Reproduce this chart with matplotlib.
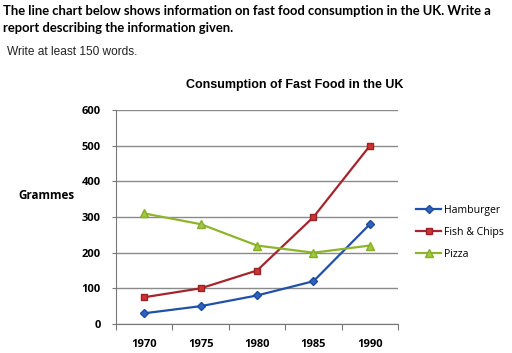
import numpy as np
import matplotlib.pyplot as plt

years = ['1970', '1975', '1980', '1985', '1990']
hamburger = [30, 50, 80, 120, 280]
fish_chips = [75, 100, 150, 300, 500]
pizza = [310, 280, 220, 200, 220]
yticks = [0, 100, 200, 300, 400, 500, 600]

fig = plt.figure(figsize=(5.12, 3.53), dpi=100)
fig.patch.set_facecolor('white')

# header text
fig.text(0.006, 0.970, "The line chart below shows information on fast food consumption in the UK. Write a",
         fontsize=9.4, fontweight='bold', family='Lato', va='center', ha='left')
fig.text(0.006, 0.922, "report describing the information given.",
         fontsize=9.4, fontweight='bold', family='Lato', va='center', ha='left')
fig.text(0.014, 0.853, "Write at least 150 words.",
         fontsize=8.6, family='Liberation Sans', color='#222222', va='center', ha='left')

ax = fig.add_axes([0.2266, 0.0822, 0.551, 0.606])
x = np.arange(len(years))

ax.plot(x, hamburger, color='#2150a8', lw=1.6, marker='D', ms=4.5,
        mfc='#2f63c0', mec='#1d4a9c', label='Hamburger')
ax.plot(x, fish_chips, color='#a4252b', lw=1.6, marker='s', ms=5,
        mfc='#cc3333', mec='#9c2024', label='Fish & Chips')
ax.plot(x, pizza, color='#8db52c', lw=1.6, marker='^', ms=6,
        mfc='#a2c840', mec='#86ad28', label='Pizza')

ax.set_xlim(-0.5, len(years) - 0.5)
ax.set_ylim(0, 600)
ax.set_yticks(yticks)
ax.set_yticklabels([str(v) for v in yticks], fontsize=8, fontweight='bold', family='Open Sans')
ax.yaxis.grid(True, color='#8a8a8a', lw=1.0)
ax.set_axisbelow(True)

# category ticks sit between bins
ax.set_xticks(np.arange(-0.5, len(years), 1.0))
ax.set_xticklabels([])
ax.set_xticks(x, minor=True)
ax.set_xticklabels(years, minor=True, fontsize=8, fontweight='bold', family='Open Sans')
ax.tick_params(axis='x', which='major', direction='out', length=4, color='#777777')
ax.tick_params(axis='x', which='minor', length=0, pad=11)
ax.tick_params(axis='y', direction='out', length=3, color='#777777', pad=8)

for s in ['top', 'right']:
    ax.spines[s].set_visible(False)
ax.spines['left'].set_color('#777777')
ax.spines['bottom'].set_color('#777777')

fig.text(0.576, 0.758, 'Consumption of Fast Food in the UK', fontsize=9, fontweight='bold',
         family='Liberation Sans', ha='center', va='center')
fig.text(0.035, 0.445, 'Grammes', fontsize=8.4, fontweight='bold', family='Open Sans',
         va='center', ha='left')

leg = ax.legend(loc='center left', bbox_to_anchor=(1.03, 0.428), frameon=False,
                prop={'family': 'Open Sans', 'size': 7.6}, handlelength=2.4,
                handletextpad=0.2, labelspacing=1.05)

fig.savefig('out.png', dpi=100)
